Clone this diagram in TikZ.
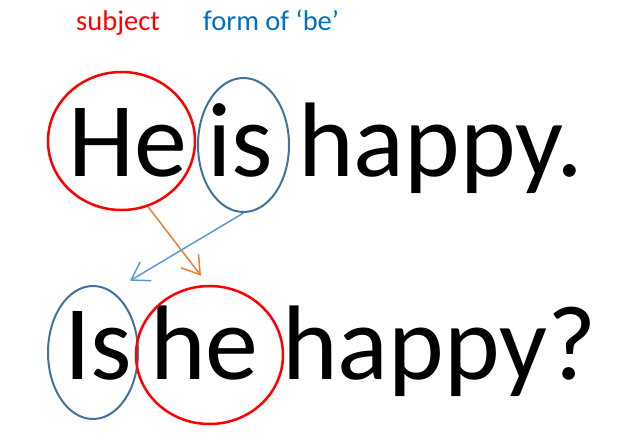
\documentclass[tikz,border=0pt]{standalone}
\usepackage{fontspec}
\setmainfont{Carlito}
\usepackage{tikz}
\usetikzlibrary{arrows.meta,shapes.geometric}

\definecolor{subjred}{RGB}{255,0,0}
\definecolor{beblue}{RGB}{0,112,192}
\definecolor{ringblue}{RGB}{65,113,156}
\definecolor{arrorange}{RGB}{237,125,49}
\definecolor{arrblue}{RGB}{91,155,213}

\tikzset{
    word/.style={anchor=base west, inner sep=0pt, font=\fontsize{106}{106}\selectfont},
    tag/.style={anchor=base west, inner sep=0pt, font=\fontsize{28.5}{28.5}\selectfont},
    ring/.style={ellipse, draw, inner sep=0pt},
    move/.style={line width=1.5pt, -{Straight Barb[length=17pt,width=22pt,line width=1.5pt]}}
}

\begin{document}
\begin{tikzpicture}[x=1pt,y=-1pt]

    \useasboundingbox (0,0) rectangle (623,444);

    \node[tag, text=subjred] at (76,31) (subjtag) {subject};
    \node[tag, text=beblue] at (203,31) (betag) {form of ‘be’};

    % statement
    \node[word] at (68,176) (he1) {He};
    \node[word] at (207,176) (is1) {is};
    \node[word] at (298,176) (happy1) {happy.};
    \node[ring, subjred, line width=2.5pt, minimum width=147, minimum height=138] at (121.5,141) (subj1) {};
    \node[ring, ringblue, line width=2pt, minimum width=91, minimum height=134] at (243.5,145) (be1) {};

    % question
    \node[word] at (64,379) (is2) {Is};
    \node[word] at (150,379) (he2) {he};
    \node[word] at (282,379) (happy2) {happy?};
    \node[ring, ringblue, line width=2pt, minimum width=90, minimum height=133] at (93,352.5) (be2) {};
    \node[ring, subjred, line width=2.5pt, minimum width=147, minimum height=138] at (209.5,355) (subj2) {};

    \coordinate (subjend) at (201,275.7);
    \coordinate (beend) at (130,280.7);
    \draw[move, arrorange] (subj1.-68) -- (subjend);
    \draw[move, arrblue] (be1.south) -- (beend);

    \end{tikzpicture}
\end{document}
